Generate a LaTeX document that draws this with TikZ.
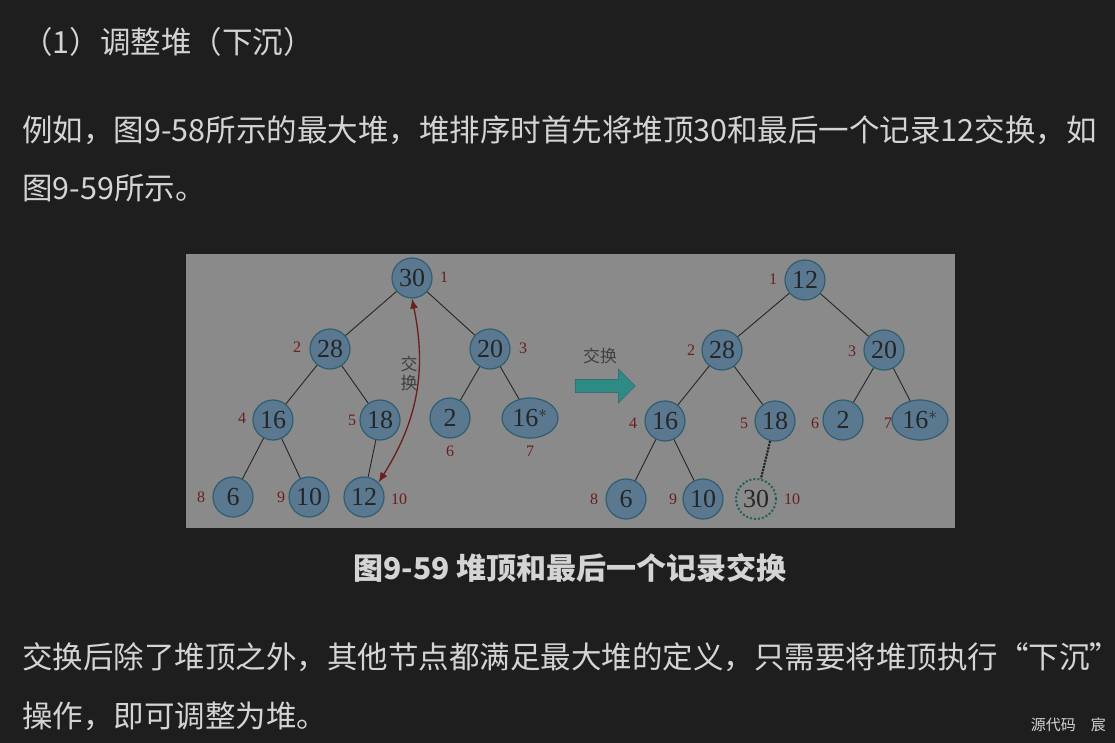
\documentclass[tikz,border=0pt]{standalone}
\usepackage{fontspec}
\setmainfont{Liberation Serif}
\newfontfamily\cjk{Noto Sans CJK SC}
\usetikzlibrary{shapes.geometric,shapes.arrows,arrows.meta}
\definecolor{bg}{HTML}{1E1E1E}
\definecolor{txt}{HTML}{D4D4D4}
\definecolor{panel}{HTML}{8A8A8A}
\definecolor{nfill}{HTML}{5A7890}
\definecolor{nline}{HTML}{2F5F6E}
\definecolor{lab}{HTML}{6A1E1E}
\definecolor{teal}{HTML}{2E8A84}
\begin{document}
\begin{tikzpicture}[x=1pt,y=-1pt,
  hn/.style={circle,draw=nline,line width=1.2pt,fill=nfill,minimum size=40pt,inner sep=0pt,font=\fontsize{26}{26}\selectfont,text=black!85},
  he/.style={ellipse,draw=nline,line width=1.2pt,fill=nfill,minimum width=56pt,minimum height=40pt,inner sep=0pt,font=\fontsize{26}{26}\selectfont,text=black!85},
  lb/.style={text=lab,font=\fontsize{16}{16}\selectfont,inner sep=0pt},
  ed/.style={draw=black!85,line width=0.9pt},
  body/.style={text=txt,font=\cjk\fontsize{30.5}{30.5}\selectfont,anchor=west,inner sep=0pt}]
\useasboundingbox[fill=bg] (0,0) rectangle (1115,743);
\node[body] (h) at (22,42) {（1）调整堆（下沉）};
\node[body] (p1) at (22,130) {例如，图9-58所示的最大堆，堆排序时首先将堆顶30和最后一个记录12交换，如};
\node[body] (p2) at (22,188) {图9-59所示。};
\fill[panel] (186,254) rectangle (955,528);
% left tree
\node[hn] (a1) at (412,278) {30};
\node[hn] (a2) at (330,349) {28};
\node[hn] (a3) at (490,349) {20};
\node[hn] (a4) at (273,420) {16};
\node[hn] (a5) at (380,420) {18};
\node[hn] (a6) at (450,418) {2};
\node[he] (a7) at (530,418) {16$^{*}$};
\node[hn] (a8) at (233,497) {6};
\node[hn] (a9) at (309,497) {10};
\node[hn] (a10) at (364,497) {12};
\foreach \p/\c in {a1/a2,a1/a3,a2/a4,a2/a5,a3/a6,a3/a7,a4/a8,a4/a9,a5/a10} \draw[ed] (\p) -- (\c);
\node[lb] (la1) at (444,277) {1};
\node[lb] (la2) at (297,347) {2};
\node[lb] (la3) at (523,348) {3};
\node[lb] (la4) at (242,418) {4};
\node[lb] (la5) at (352,420) {5};
\node[lb] (la6) at (450,451) {6};
\node[lb] (la7) at (530,451) {7};
\node[lb] (la8) at (201,497) {8};
\node[lb] (la9) at (281,497) {9};
\node[lb] (la10) at (399,499) {10};
\draw[lab,line width=1.3pt,{Latex[length=10pt,width=8pt]}-{Latex[length=10pt,width=8pt]}] (a1.south) to[bend left=22] (a10.north east);
\node[text=black!75,font=\cjk\fontsize{17}{17}\selectfont,align=center,inner sep=0pt] (xh) at (409,373) {交\\[2pt]换};
% arrow
\node[single arrow,fill=teal,draw=nline,minimum height=60pt,minimum width=34pt,single arrow head extend=5pt,inner sep=3pt] (arr) at (602,386) {};
\node[text=black!75,font=\cjk\fontsize{17}{17}\selectfont,inner sep=0pt] (xt) at (600,356) {交换};
% right tree
\node[hn] (b1) at (805,280) {12};
\node[hn] (b2) at (722,350) {28};
\node[hn] (b3) at (884,350) {20};
\node[hn] (b4) at (665,421) {16};
\node[hn] (b5) at (775,421) {18};
\node[hn] (b6) at (843,420) {2};
\node[he] (b7) at (920,420) {16$^{*}$};
\node[hn] (b8) at (626,499) {6};
\node[hn] (b9) at (703,499) {10};
\node[circle,draw=teal!70!black,line width=2pt,dotted,minimum size=40pt,inner sep=0pt,font=\fontsize{26}{26}\selectfont,text=black!85] (b10) at (756,499) {30};
\foreach \p/\c in {b1/b2,b1/b3,b2/b4,b2/b5,b3/b6,b3/b7,b4/b8,b4/b9} \draw[ed] (\p) -- (\c);
\draw[black!85,line width=2.2pt,densely dotted] (b5) -- (b10);
\node[lb] (lb1) at (773,279) {1};
\node[lb] (lb2) at (691,350) {2};
\node[lb] (lb3) at (852,351) {3};
\node[lb] (lb4) at (633,423) {4};
\node[lb] (lb5) at (744,423) {5};
\node[lb] (lb6) at (815,423) {6};
\node[lb] (lb7) at (888,423) {7};
\node[lb] (lb8) at (594,499) {8};
\node[lb] (lb9) at (673,499) {9};
\node[lb] (lb10) at (792,499) {10};
% caption & text
\node[text=txt,font=\cjk\bfseries\fontsize{30}{30}\selectfont,inner sep=0pt] (cap) at (570,568) {图9-59 堆顶和最后一个记录交换};
\node[body] (p3) at (22,657) {交换后除了堆顶之外，其他节点都满足最大堆的定义，只需要将堆顶执行“下沉”};
\node[body] (p4) at (22,716) {操作，即可调整为堆。};
\node[text=txt,font=\cjk\fontsize{15}{15}\selectfont,anchor=east,inner sep=0pt] (wm) at (1106,725) {源代码\quad 宸};
\end{tikzpicture}
\end{document}
